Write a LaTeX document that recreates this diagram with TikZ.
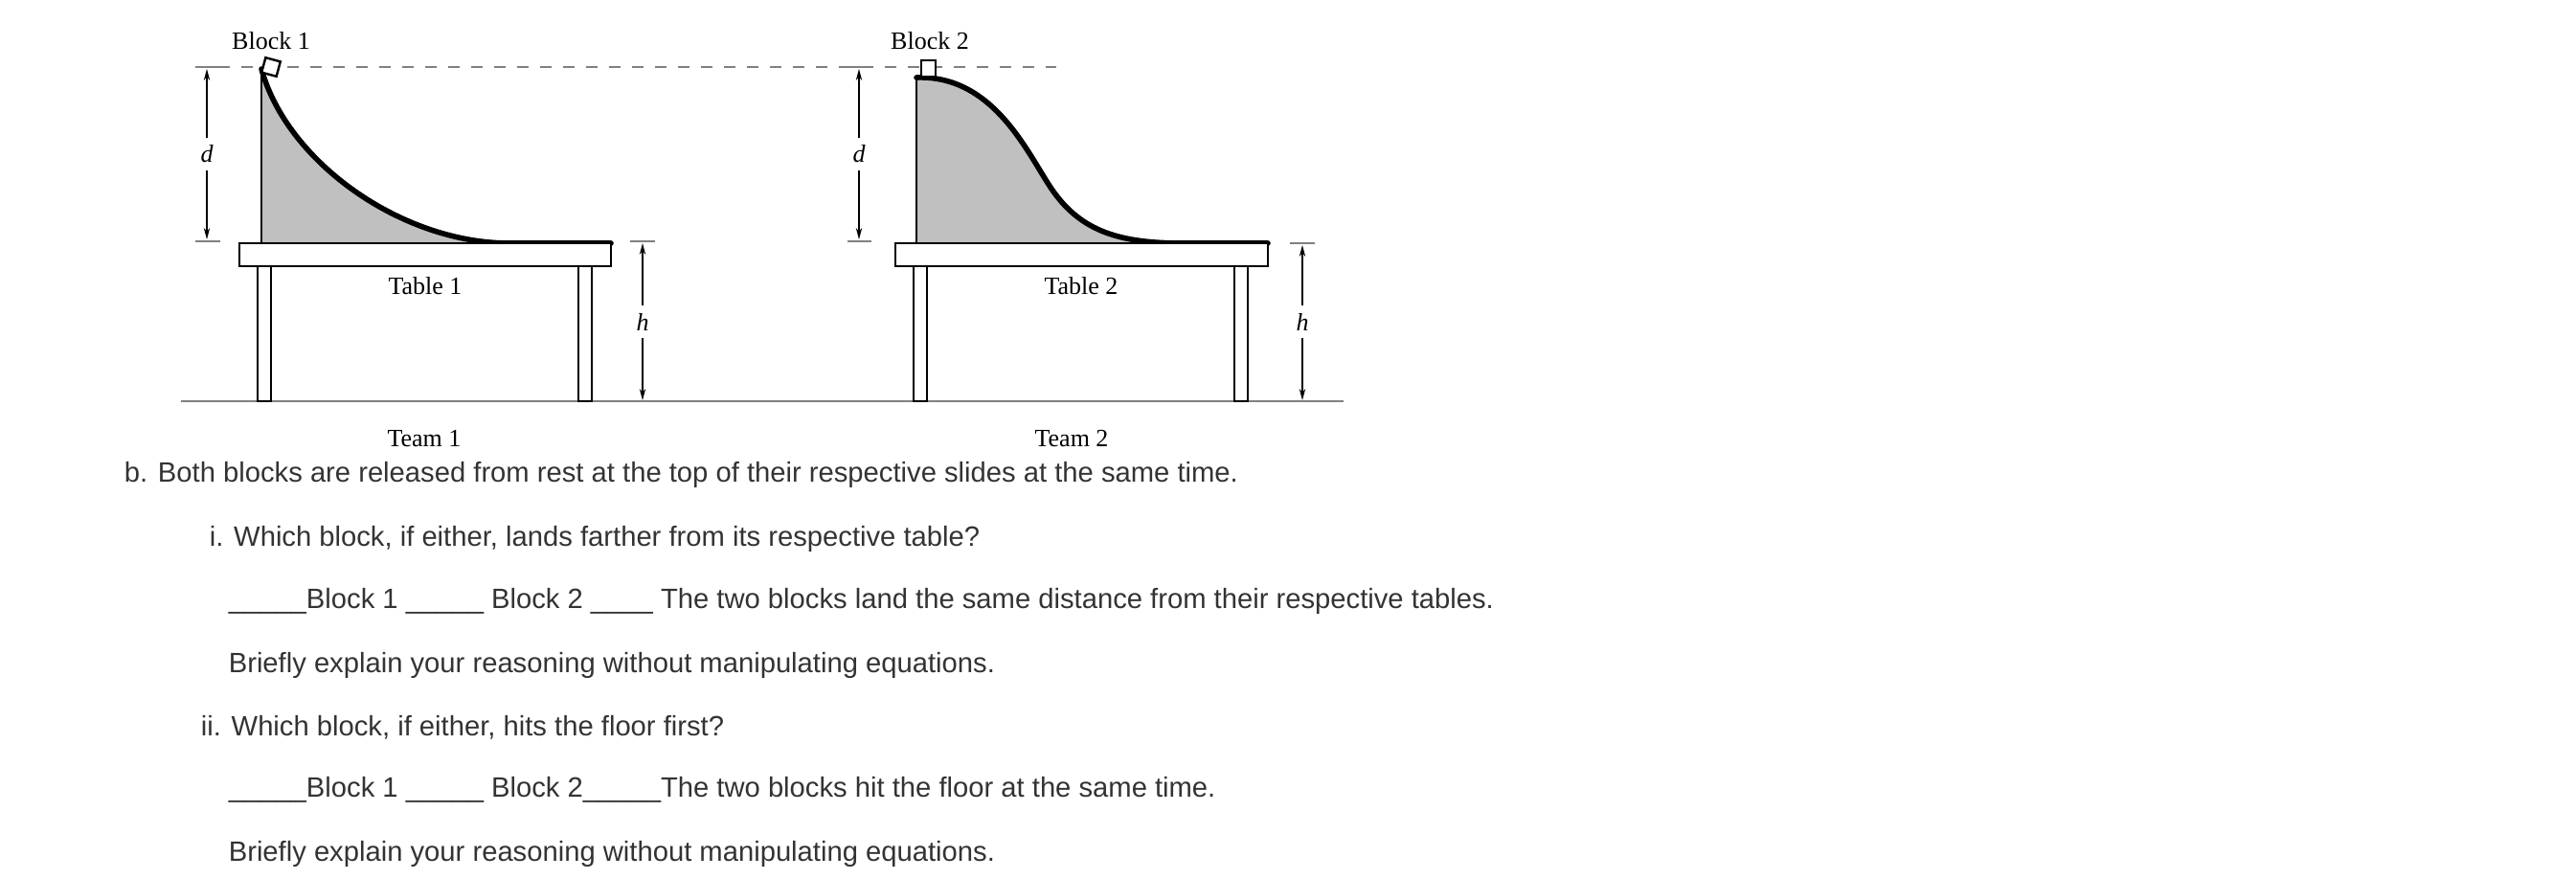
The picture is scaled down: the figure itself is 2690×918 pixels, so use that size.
\documentclass[tikz,border=0pt]{standalone}
\usepackage{fontspec}
\setmainfont{Liberation Serif}
\newfontfamily\qfont{Liberation Sans}
\usetikzlibrary{arrows.meta}
\definecolor{slidegray}{RGB}{192,192,192}
\definecolor{txt}{RGB}{51,51,51}
\tikzset{
  lab/.style={font=\fontsize{6.5}{7}\selectfont, inner sep=0pt},
  qtext/.style={font=\qfont\fontsize{7.3}{8}\selectfont, text=txt, anchor=west, inner sep=0pt},
  tbl/.style={draw, line width=0.5pt, fill=white},
  dim/.style={line width=0.3pt, {Stealth[length=3pt,width=1.6pt]}-{Stealth[length=3pt,width=1.6pt]}},
  tick/.style={line width=0.4pt, gray},
  slide/.style={fill=slidegray, draw=none},
  rim/.style={line width=1.4pt, line cap=round}
}
\begin{document}
\begin{tikzpicture}[x=0.25pt,y=-0.25pt]
\useasboundingbox (0,0) rectangle (2690,918);
% dashed top line and floor
\draw[dashed, gray, line width=0.4pt] (204,70) -- (1103,70);
\draw[gray, line width=0.5pt] (189,419) -- (1403,419);
% ---- Team 1 ----
\fill[slide] (273,72) .. controls (300,170) and (420,254) .. (532,254) -- (273,254) -- cycle;
\draw[line width=0.5pt] (273,72) -- (273,254);
\draw[rim] (273,72) .. controls (300,170) and (420,254) .. (532,254) -- (638,254);
\draw[tbl] (269,278) rectangle (283,419);
\draw[tbl] (604,278) rectangle (618,419);
\draw[tbl] (250,254) rectangle (638,278);
\draw[line width=0.6pt, fill=white, rotate around={-15:(283,70)}] (275,62) rectangle (291,78);
% dims
\draw[tick] (204,70) -- (230,70); \draw[tick] (204,252) -- (230,252);
\draw[dim] (216,72) -- (216,250);
\node[lab, fill=white, inner ysep=2pt] (d1) at (216,161) {\itshape d};
\draw[tick] (658,252) -- (684,252);
\draw[dim] (671,254) -- (671,418);
\node[lab, fill=white, inner ysep=2pt] (h1) at (671,336) {\itshape h};
\node[lab] (b1) at (283,43) {Block 1};
\node[lab] (t1) at (444,299) {Table 1};
\node[lab] (tm1) at (443,458) {Team 1};
% ---- Team 2 ----
\fill[slide] (957,81) .. controls (1040,78) and (1075,165) .. (1100,200) .. controls (1130,242) and (1170,254) .. (1235,254) -- (957,254) -- cycle;
\draw[line width=0.5pt] (957,81) -- (957,254);
\draw[rim] (957,81) .. controls (1040,78) and (1075,165) .. (1100,200) .. controls (1130,242) and (1170,254) .. (1235,254) -- (1324,254);
\draw[tbl] (954,278) rectangle (968,419);
\draw[tbl] (1289,278) rectangle (1303,419);
\draw[tbl] (935,254) rectangle (1324,278);
\draw[line width=0.6pt, fill=white] (962,63) rectangle (977,80);
\draw[tick] (885,70) -- (910,70); \draw[tick] (885,252) -- (910,252);
\draw[dim] (897,72) -- (897,250);
\node[lab, fill=white, inner ysep=2pt] (d2) at (897,161) {\itshape d};
\draw[tick] (1347,254) -- (1373,254);
\draw[dim] (1360,256) -- (1360,418);
\node[lab, fill=white, inner ysep=2pt] (h2) at (1360,336) {\itshape h};
\node[lab] (b2) at (971,43) {Block 2};
\node[lab] (t2) at (1129,299) {Table 2};
\node[lab] (tm2) at (1119,458) {Team 2};
% ---- Questions ----
\node[qtext] (q0) at (129,496) {b. Both blocks are released from rest at the top of their respective slides at the same time.};
\node[qtext] (q1) at (218,563) {i. Which block, if either, lands farther from its respective table?};
\node[qtext] (q2) at (238,628) {\_\_\_\_\_Block 1 \_\_\_\_\_ Block 2 \_\_\_\_ The two blocks land the same distance from their respective tables.};
\node[qtext] (q3) at (238,695) {Briefly explain your reasoning without manipulating equations.};
\node[qtext] (q4) at (209,760) {ii. Which block, if either, hits the floor first?};
\node[qtext] (q5) at (238,825) {\_\_\_\_\_Block 1 \_\_\_\_\_ Block 2\_\_\_\_\_The two blocks hit the floor at the same time.};
\node[qtext] (q6) at (238,892) {Briefly explain your reasoning without manipulating equations.};
\end{tikzpicture}
\end{document}
